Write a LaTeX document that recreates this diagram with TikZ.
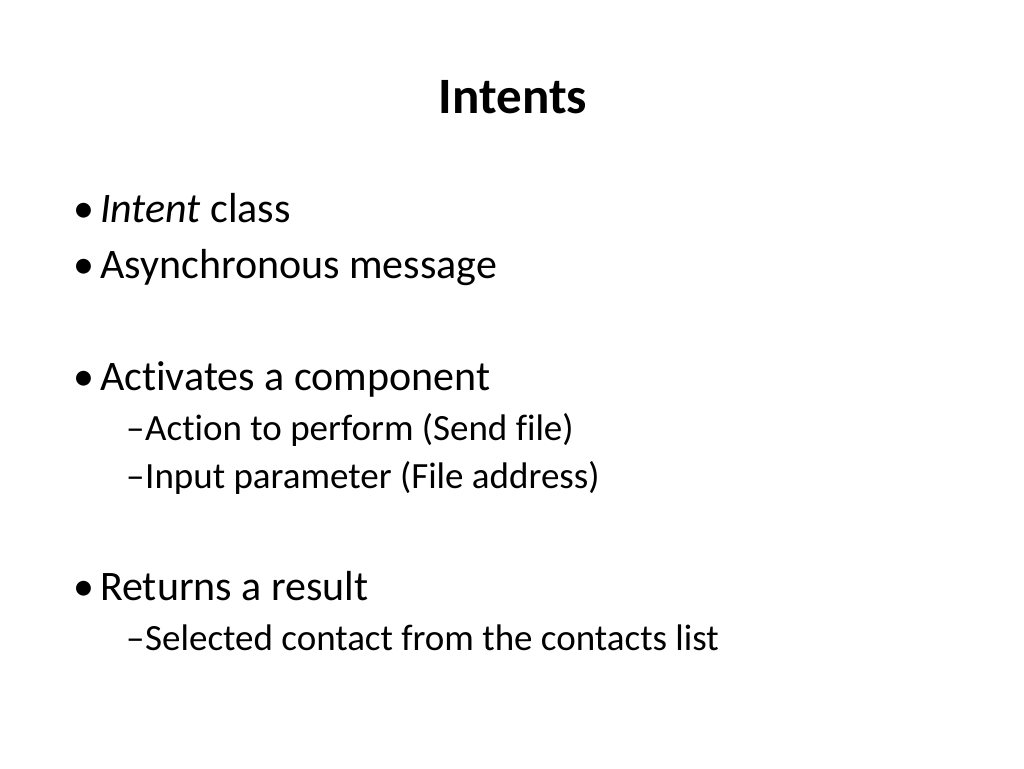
\documentclass[tikz,border=0pt]{standalone}
\usepackage{fontspec}
\setmainfont{Carlito}[Ligatures=NoCommon]
\begin{document}
\begin{tikzpicture}[x=1pt,y=-1pt,
  lvl/.style={anchor=base west,inner sep=0pt,font=\fontsize{42}{48}\selectfont},
  sub/.style={anchor=base west,inner sep=0pt,font=\fontsize{37}{42}\selectfont},
  mk/.style={anchor=base west,inner sep=0pt}]
\useasboundingbox (0,0) rectangle (1024,768);
\node[anchor=base,inner sep=0pt,font=\fontsize{51}{58}\selectfont\bfseries] (t) at (513,113) {Intents};
\foreach \n/\y/\txt in {a/222/{\textit{Intent} class},b/278/{Asynchronous message},c/390/{Activates a component},d/600/{Returns a result}}{
  \node[lvl] (m\n) at (73,\y) {•};
  \node[lvl] (\n) at (100,\y) {\txt};
}
\foreach \n/\y/\txt in {e/440/{Action to perform (Send file)},f/488/{Input parameter (File address)},g/650/{Selected contact from the contacts list}}{
  \node[sub] (m\n) at (126,\y) {–};
  \node[sub] (\n) at (145,\y) {\txt};
}
\end{tikzpicture}
\end{document}
